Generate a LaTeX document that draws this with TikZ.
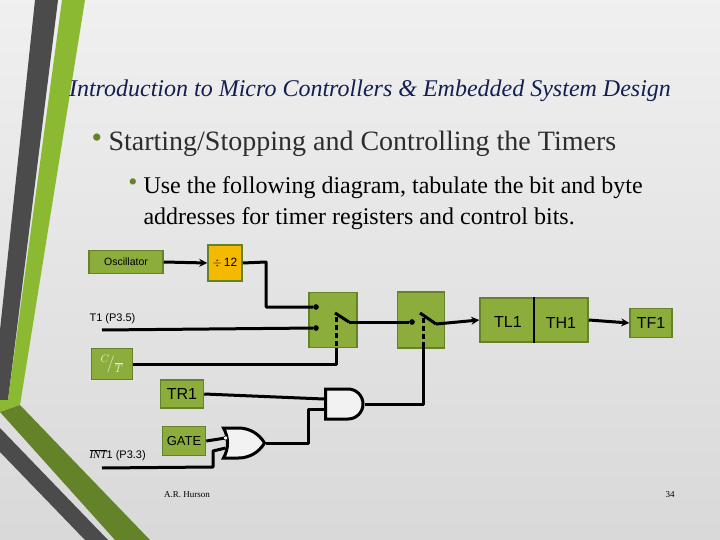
\documentclass[tikz,border=0pt]{standalone}
\usepackage{fontspec}
\setmainfont{Liberation Serif}
\newfontfamily\arial{Liberation Sans}
\usetikzlibrary{arrows.meta,shapes.gates.logic.US}
\definecolor{gfill}{RGB}{140,172,60}
\definecolor{gdraw}{RGB}{100,130,40}
\definecolor{ofill}{RGB}{245,185,0}
\definecolor{dgrey}{RGB}{75,75,75}
\definecolor{lgreen}{RGB}{140,185,50}
\definecolor{titleblue}{RGB}{20,30,80}
\begin{document}
\begin{tikzpicture}[x=1pt,y=-1pt,
  gbox/.style={draw=gdraw,fill=gfill,line width=1.5pt,inner sep=0pt,font=\arial},
  wire/.style={line width=3pt,line join=round},
  arr/.style={wire,-{Stealth[length=8pt,width=8pt]}},
  dash3/.style={wire,dash pattern=on 5pt off 3pt},
  dot/.style={circle,fill=black,inner sep=2pt}]
\shade[top color=gray!12,bottom color=gray!30] (0,0) rectangle (720,540);
\useasboundingbox (0,0) rectangle (720,540);
% left decoration
\fill[dgrey] (35,0) -- (58,0) -- (8,400) -- (0,400) -- (0,330) -- cycle;
\fill[lgreen] (62,0) -- (85,0) -- (20,405) -- (0,412) -- (0,400) -- (8,400) -- cycle;
\fill[gdraw] (0,412) -- (20,405) -- (150,540) -- (115,540) -- cycle;
\fill[dgrey] (0,428) -- (108,540) -- (85,540) -- (0,452) -- cycle;
% texts
\node[font=\itshape\fontsize{24}{28}\selectfont,text=titleblue] (title) at (370,91) {Introduction to Micro Controllers \& Embedded System Design};
\node[font=\fontsize{30}{30}\selectfont,text=gdraw] (bul1) at (97,141) {\textbullet};
\node[anchor=west,font=\fontsize{28}{32}\selectfont,text=gray!35!black] (b1) at (105,144) {Starting/Stopping and Controlling the Timers};
\node[font=\fontsize{26}{26}\selectfont,text=gdraw] (bul2) at (133,185) {\textbullet};
\node[anchor=west,font=\fontsize{24}{28}\selectfont,text=black] (b2) at (140,188) {Use the following diagram, tabulate the bit and byte};
\node[anchor=west,font=\fontsize{24}{28}\selectfont,text=black] (b3) at (140,219) {addresses for timer registers and control bits.};
\node[font=\fontsize{9}{10}\selectfont] (foot) at (187,495) {A.R. Hurson};
\node[font=\fontsize{9}{10}\selectfont] (pg) at (670,495) {34};
% boxes
\node[gbox,minimum width=74pt,minimum height=23pt,font=\arial\fontsize{10.5}{11}\selectfont] (osc) at (126,262) {Oscillator};
\node[draw=gdraw,fill=ofill,line width=1.5pt,minimum width=34pt,minimum height=36pt,font=\arial\fontsize{12}{13}\selectfont] (div) at (225,263) {$\div$\,12};
\node[gbox,minimum width=48pt,minimum height=55pt] (sw1) at (333,320) {};
\node[gbox,minimum width=47pt,minimum height=56pt] (sw2) at (421,320) {};
\node[gbox,minimum width=41pt,minimum height=31pt,text=white!80!gfill,font=\fontsize{16}{18}\selectfont] (ct) at (112,364) {$^{C}\!/_{\overline{T}}$};
\node[gbox,minimum width=43pt,minimum height=28pt,font=\arial\fontsize{16}{18}\selectfont] (tr1) at (182,394) {TR1};
\node[gbox,minimum width=43pt,minimum height=29pt,font=\arial\fontsize{13}{14}\selectfont] (gate) at (184,441) {GATE};
\node[gbox,minimum width=108pt,minimum height=44pt] (tl) at (534,320) {};
\node[font=\arial\fontsize{16}{18}\selectfont] (tl1) at (508,322) {TL1};
\node[font=\arial\fontsize{16}{18}\selectfont] (th1) at (561,323) {TH1};
\draw[line width=2.5pt] (tl.north) -- (tl.south);
\node[gbox,minimum width=42pt,minimum height=29pt,font=\arial\fontsize{16}{18}\selectfont] (tf1) at (651,323) {TF1};
\node[anchor=west,font=\arial\fontsize{11}{12}\selectfont] (t1l) at (86,319) {T1 (P3.5)};
\node[anchor=west,font=\arial\fontsize{11}{12}\selectfont] (intl) at (86,455) {$\overline{\mathit{INT}}$1 (P3.3)};
% gates
\node[and gate US,draw,line width=3pt,fill=white!90!gray,minimum width=14pt,minimum height=29pt,inner sep=0pt] (and) at (343,404) {};
\node[or gate US,draw,line width=3pt,fill=white!90!gray,minimum width=14pt,minimum height=26pt,inner sep=0pt] (or) at (241,443) {};
% switch 1
\coordinate (c1a) at (316,307); \coordinate (c1b) at (316,328);
\coordinate (b1s) at (335,313); \coordinate (b1e) at (349,322);
\node[dot] (d1a) at (c1a) {}; \node[dot] (d1b) at (c1b) {};
\draw[wire] (b1s) -- (b1e);
\coordinate (ctc) at (336,364);
\draw[dash3] (336,317) -- (336,348);
\draw[wire] (ct.east) -- (ctc) -- (336,348);
\coordinate (t1s) at (102,330);
\draw[wire] (t1s) -- (d1b);
\draw[arr] (osc.east) -- (div.west);
\draw[wire] (div.east) -- (266,262) -- (266,307) -- (d1a);
% switch 2
\coordinate (c2a) at (412,322);
\node[dot] (d2a) at (c2a) {};
\coordinate (b2s) at (420,313); \coordinate (b2e) at (436,324);
\draw[wire] (b2s) -- (b2e);
\draw[wire] (b1e) -- (d2a);
\draw[dash3] (423,318) -- (423,343);
\draw[arr] (b2e) -- (tl.west);
\draw[arr] (tl.east) -- (tf1.west);
% gates wiring
\draw[wire] (tr1.east) -- (and.input 1);
\draw[wire] (and.output) -| (423,343);
\draw[wire] (or.output) -- (308,443) |- (and.input 2);
\draw[wire] (gate.east) -- (or.input 1);
\node[draw,circle,fill=white,inner sep=1.5pt,line width=0.6pt] (bub) at (or.input 1) {};
\coordinate (ints) at (102,468);
\draw[wire] (ints) -- (213,467) -- (213,451) -- (or.input 2);
\end{tikzpicture}
\end{document}
